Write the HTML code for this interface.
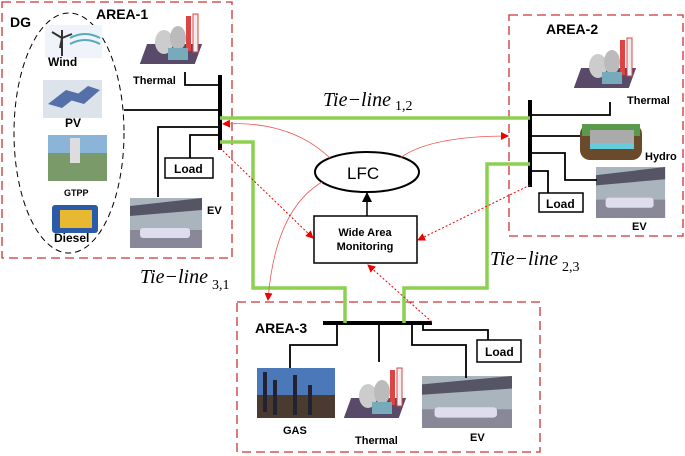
<!DOCTYPE html>
<html><head><meta charset="utf-8"><style>body{margin:0;background:#fff}svg{display:block}</style></head><body>
<svg width="685" height="456" viewBox="0 0 685 456" xmlns="http://www.w3.org/2000/svg" font-family="Liberation Sans, sans-serif">
<defs>
<marker id="ar" markerWidth="8" markerHeight="8" refX="7" refY="4" orient="auto" markerUnits="userSpaceOnUse"><path d="M0,0 L8,4 L0,8z" fill="#e00"/></marker>
<marker id="ab" markerWidth="10" markerHeight="10" refX="9" refY="5" orient="auto" markerUnits="userSpaceOnUse"><path d="M0,0 L10,5 L0,10z" fill="#000"/></marker>
<g id="th"><rect x="0" y="30" width="55" height="20" fill="#5a4a6a" transform="skewX(-20) translate(12,0)"/><ellipse cx="18" cy="28" rx="9" ry="12" fill="#ccc"/><ellipse cx="32" cy="24" rx="8" ry="12" fill="#bbb"/><rect x="40" y="2" width="5" height="35" fill="#d44"/><rect x="47" y="0" width="5" height="38" fill="#eee" stroke="#d44"/><rect x="22" y="34" width="20" height="12" fill="#7ab"/></g>
<g id="ev"><rect x="0" y="0" width="72" height="50" fill="#aab4bc"/><path d="M0,8 L72,0 L72,12 L0,18z" fill="#556"/><rect x="0" y="32" width="72" height="18" fill="#889"/><rect x="10" y="30" width="50" height="10" fill="#dde" rx="3"/></g>
</defs>
<g fill="none" stroke="#c33" stroke-width="1.3" stroke-dasharray="9,5">
<rect x="2" y="2" width="230" height="256"/>
<rect x="509" y="15" width="174" height="221"/>
<rect x="237" y="302" width="303" height="150"/>
</g>
<ellipse cx="69" cy="133" rx="55" ry="120" fill="none" stroke="#000" stroke-dasharray="6,4"/>
<!-- images area1 -->
<rect x="45" y="25" width="57" height="33" fill="#eef4fa"/><path d="M62,30 L62,56 M62,38 L52,32 M62,38 L72,34 M62,38 L60,48" stroke="#333" stroke-width="2"/><path d="M70,38 q15,-8 30,0 M70,44 q15,-8 30,0" stroke="#5ab" stroke-width="2" fill="none"/>
<rect x="43" y="80" width="59" height="38" fill="#dde3ea"/><path d="M48,104 l18,-14 l14,4 l-18,14z M70,100 l18,-14 l12,4 l-16,14z" fill="#5570a8"/>
<rect x="48" y="135" width="59" height="46" fill="#7a9a6a"/><rect x="48" y="135" width="59" height="18" fill="#8ab4d8"/><rect x="70" y="138" width="10" height="25" fill="#ddd"/>
<rect x="52" y="205" width="46" height="28" fill="#2a5aa8" rx="3"/><rect x="60" y="210" width="32" height="18" fill="#e8b830"/>
<use href="#th" transform="translate(146,14)"/>
<use href="#th" transform="translate(580,38)"/>
<use href="#th" transform="translate(350,368)"/>
<rect x="580" y="124" width="62" height="36" fill="#6a4a2a" rx="10"/><rect x="582" y="124" width="58" height="12" fill="#5a9a4a"/><rect x="590" y="130" width="44" height="13" fill="#aaa"/><rect x="590" y="143" width="44" height="6" fill="#6cd"/>
<use href="#ev" transform="translate(130,198)"/>
<use href="#ev" transform="translate(596,167) scale(0.96,1.02)"/>
<use href="#ev" transform="translate(422,376) scale(1.25,1.04)"/>
<rect x="257" y="368" width="78" height="50" fill="#4a78b8"/><rect x="257" y="395" width="78" height="23" fill="#4a3a30"/><path d="M265,372 v40 M275,380 v35 M295,375 v40 M310,385 v30" stroke="#223" stroke-width="4"/>
<!-- black lines -->
<g stroke="#000" stroke-width="1.8" fill="none">
<path d="M185,72 V85 H220"/><path d="M124,110 H220"/><path d="M158,197 V127 H220"/><path d="M190,158 V135 H220"/>
<path d="M530,115 H610 V102"/><path d="M530,136 H580"/><path d="M530,153 H565 V180 H597"/><path d="M530,171 H548 V193"/>
<path d="M337,323 V345 H290 V368"/><path d="M379,323 V362"/><path d="M412,323 V345 H466 V378"/><path d="M423,323 V330 H488 V340"/>
</g>
<g stroke="#000" stroke-width="4"><path d="M220,75 V150"/><path d="M530,100 V187"/><path d="M323,323 H432"/></g>
<g fill="#fff" stroke="#000" stroke-width="1.5"><rect x="165" y="158" width="48" height="20"/><rect x="539" y="193" width="44" height="19"/><rect x="477" y="340" width="44" height="22"/><rect x="314" y="216" width="103" height="47"/></g>
<g font-weight="bold" font-size="12"><text x="174" y="173">Load</text><text x="546" y="208">Load</text><text x="485" y="356">Load</text></g>
<!-- green -->
<g stroke="#8cd050" stroke-width="3.5" fill="none"><path d="M220,118 H530"/><path d="M220,142 H253 V288 H345 V323"/><path d="M530,164 H487 V288 H404 V323"/></g>
<!-- LFC -->
<ellipse cx="367" cy="172" rx="52" ry="20" fill="#fff" stroke="#000" stroke-width="2"/>
<text x="347" y="179" font-size="17">LFC</text>
<path d="M367,216 V193" stroke="#000" stroke-width="1.5" marker-end="url(#ab)"/>
<g stroke="#e55" stroke-width="0.8" fill="none">
<path d="M330,158 Q290,120 223,124" marker-end="url(#ar)"/>
<path d="M400,158 Q430,136 508,136" marker-end="url(#ar)"/>
<path d="M322,182 Q275,210 268,300" marker-end="url(#ar)"/>
</g>
<g stroke="#e00" stroke-width="1" stroke-dasharray="2,2" fill="none">
<path d="M220,148 L313,238" marker-end="url(#ar)"/><path d="M530,185 L418,240" marker-end="url(#ar)"/><path d="M432,322 L368,265" marker-end="url(#ar)"/>
</g>
<g font-weight="bold" font-size="12" fill="#000">
<text x="10" y="27" font-size="14">DG</text><text x="96" y="19" font-size="14">AREA-1</text>
<text x="48" y="66">Wind</text><text x="65" y="127">PV</text><text x="64" y="196" font-size="9">GTPP</text><text x="54" y="242">Diesel</text>
<text x="133" y="84" font-size="11">Thermal</text><text x="207" y="214" font-size="11">EV</text>
<text x="546" y="34" font-size="14">AREA-2</text><text x="627" y="104" font-size="11">Thermal</text><text x="645" y="160" font-size="11">Hydro</text><text x="632" y="230" font-size="11">EV</text>
<text x="255" y="333" font-size="14">AREA-3</text><text x="283" y="434" font-size="11">GAS</text><text x="355" y="444" font-size="11">Thermal</text><text x="470" y="441" font-size="11">EV</text>
<text x="365" y="236" font-size="11" text-anchor="middle">Wide Area</text><text x="365" y="250" font-size="11" text-anchor="middle">Monitoring</text>
</g>
<g font-family="Liberation Serif, serif" font-style="italic" font-size="20">
<text x="323" y="106">Tie−line<tspan font-style="normal" font-size="14" dx="4" dy="4">1,2</tspan></text>
<text x="140" y="283">Tie−line<tspan font-style="normal" font-size="14" dx="4" dy="6">3,1</tspan></text>
<text x="490" y="265">Tie−line<tspan font-style="normal" font-size="14" dx="4" dy="6">2,3</tspan></text>
</g>
</svg>
</body></html>
